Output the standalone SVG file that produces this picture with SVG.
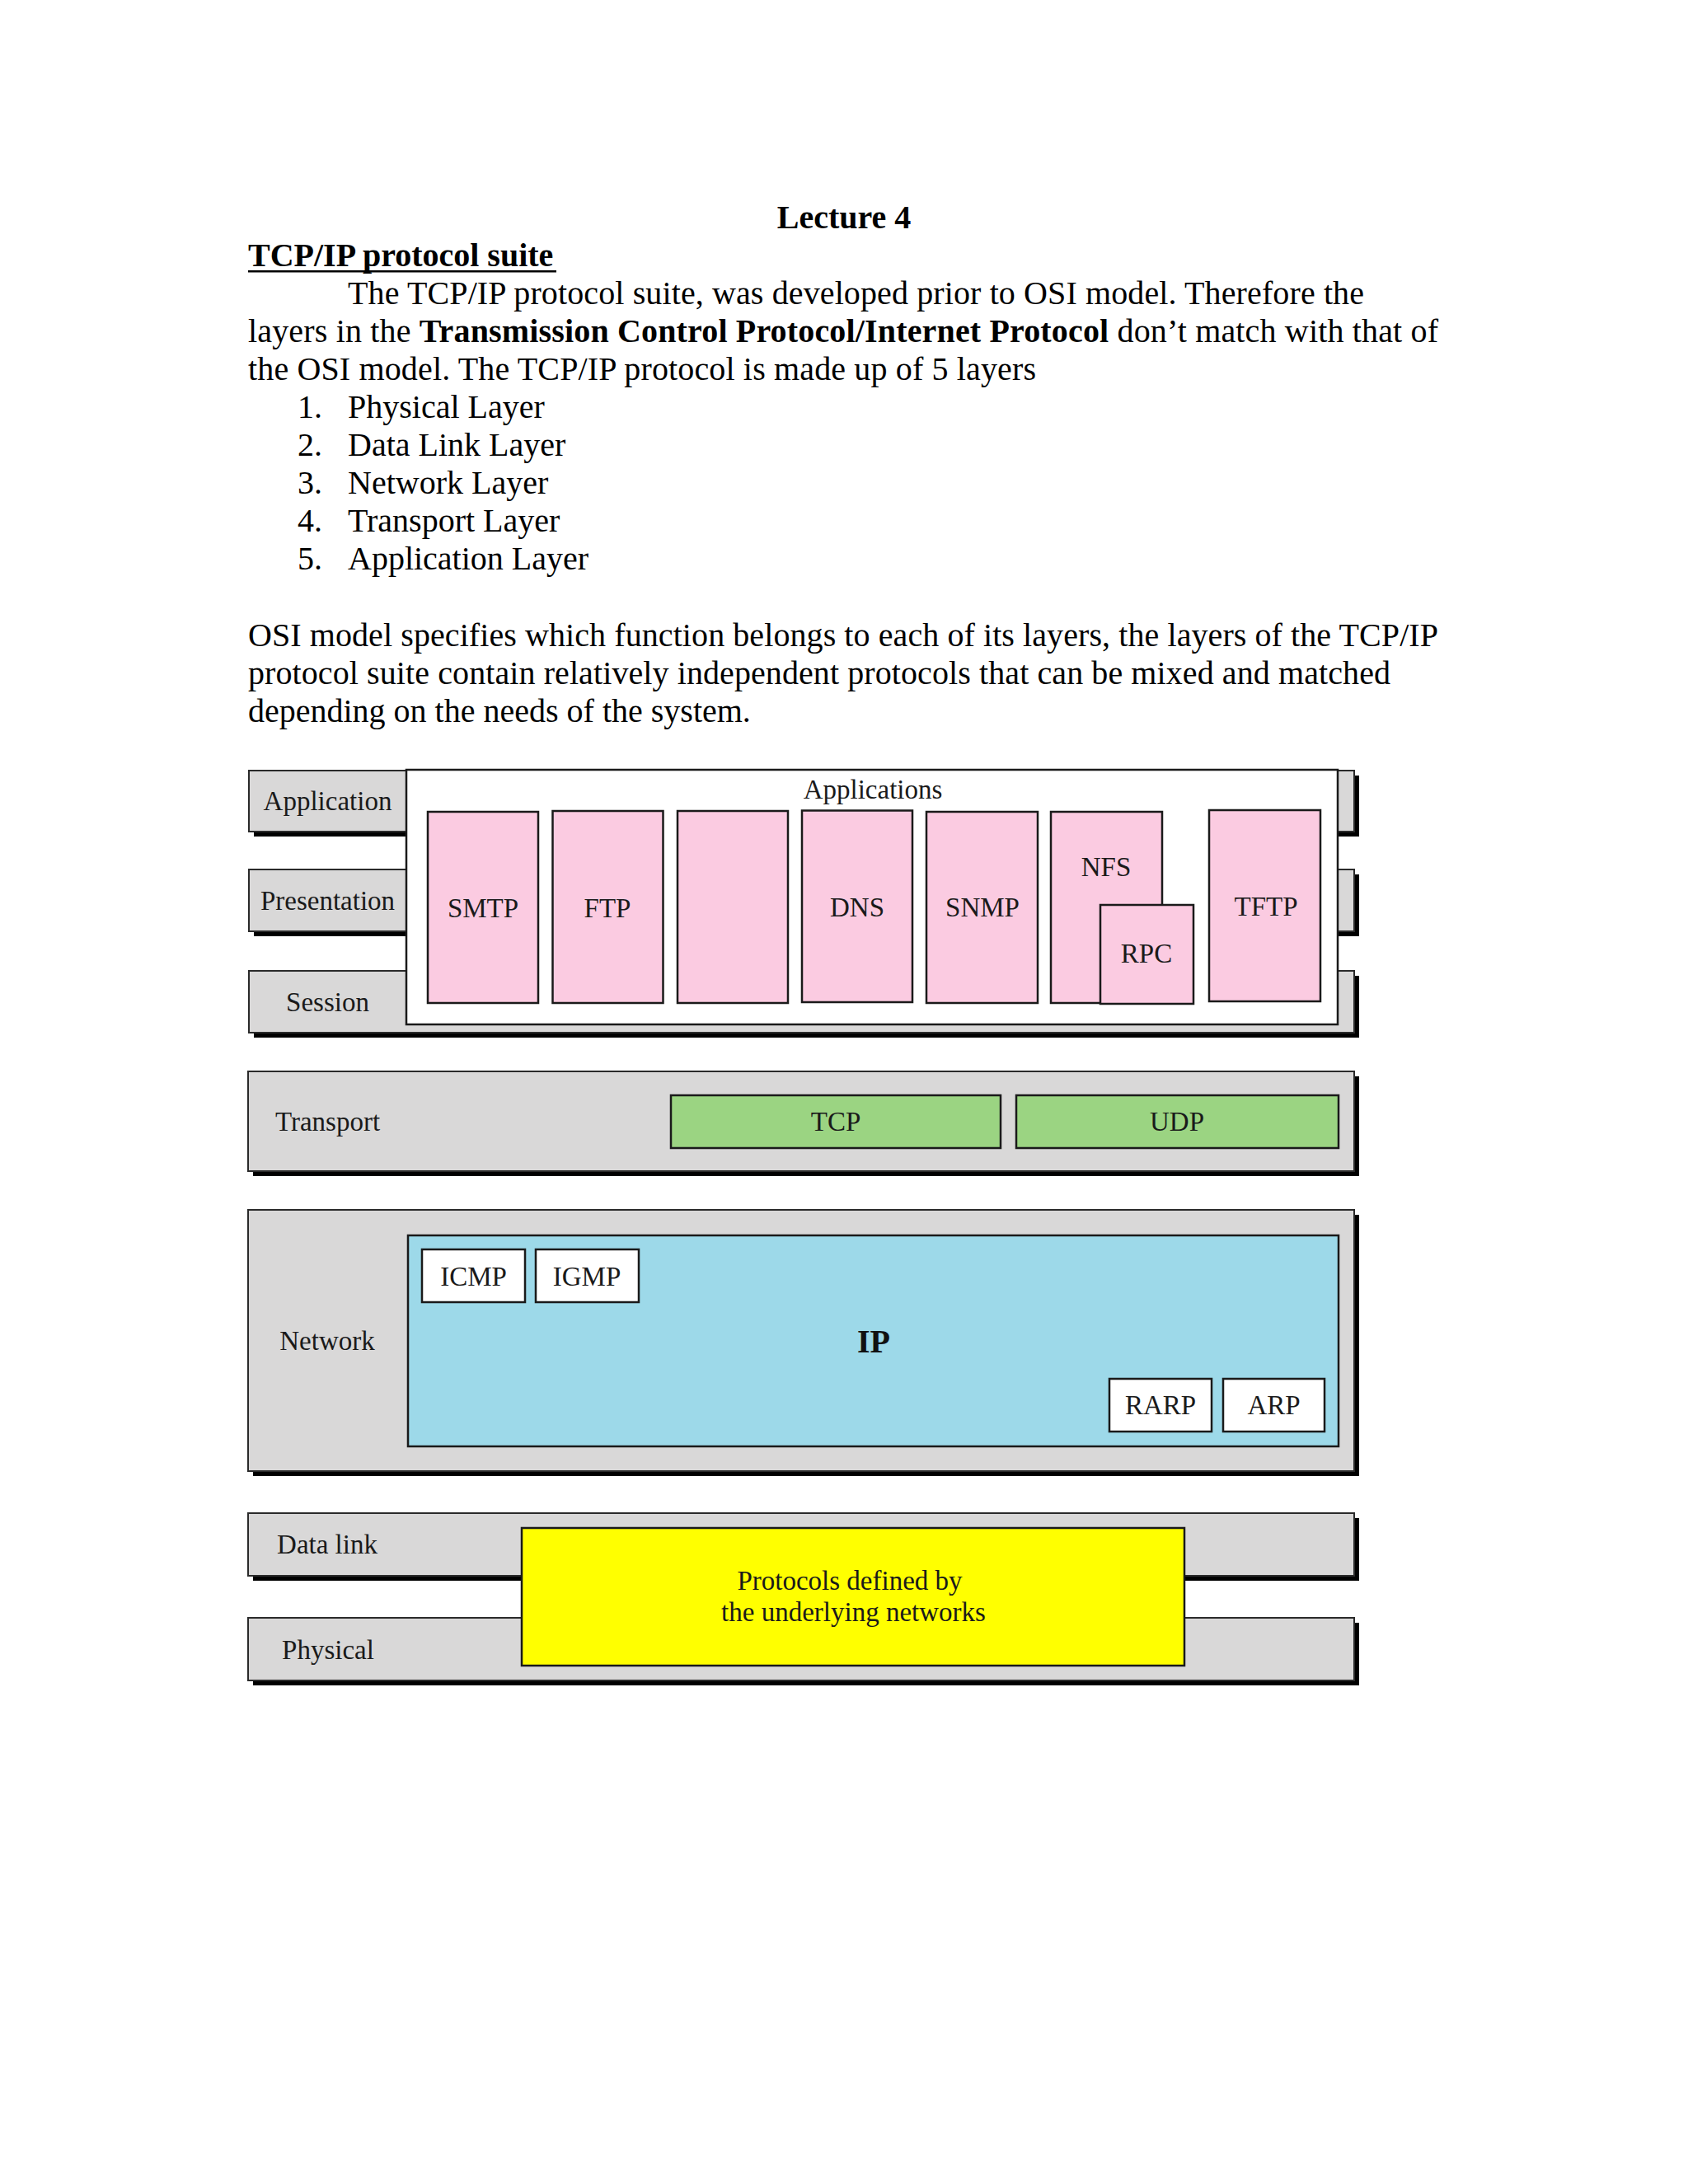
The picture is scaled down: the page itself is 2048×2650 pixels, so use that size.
<svg xmlns="http://www.w3.org/2000/svg" width="2048" height="2650" viewBox="0 0 2048 2650">
<style>
.body{font-family:"Liberation Serif","Times New Roman",serif;font-size:40px;fill:#000}
.b{font-weight:bold}
.lbl{font-family:"Liberation Serif","Times New Roman",serif;font-size:33px;fill:#1a1a1a;text-anchor:middle}
.ip{font-family:"Liberation Serif","Times New Roman",serif;font-size:40px;font-weight:bold;fill:#111;text-anchor:middle}
.layer{fill:#d9d8d8;stroke:#2a2a2a;stroke-width:2}
.shadow{fill:#000}
.box{stroke:#1a1a1a;stroke-width:2.5}
.pink{fill:#fbcbe1}
.green{fill:#9bd482}
.blue{fill:#9dd9e9}
.white{fill:#fff}
.yellow{fill:#ffff00}
</style>
<rect width="2048" height="2650" fill="#fff"/>
<g id="text">
<text class="body b" x="1024" y="277" text-anchor="middle">Lecture 4</text>
<text class="body b" x="301" y="323">TCP/IP protocol suite</text>
<rect x="301" y="328" width="374" height="2.5" fill="#000"/>
<text class="body" x="422" y="369" textLength="1233" lengthAdjust="spacing">The TCP/IP protocol suite, was developed prior to OSI model. Therefore the</text>
<text class="body" x="301" y="415" textLength="1444" lengthAdjust="spacing">layers in the <tspan class="b">Transmission Control Protocol/Internet Protocol</tspan> don’t match with that of</text>
<text class="body" x="301" y="461" textLength="956" lengthAdjust="spacing">the OSI model. The TCP/IP protocol is made up of 5 layers</text>
<text class="body" x="361" y="507">1.</text><text class="body" x="422" y="507">Physical Layer</text>
<text class="body" x="361" y="553">2.</text><text class="body" x="422" y="553">Data Link Layer</text>
<text class="body" x="361" y="599">3.</text><text class="body" x="422" y="599">Network Layer</text>
<text class="body" x="361" y="645">4.</text><text class="body" x="422" y="645">Transport Layer</text>
<text class="body" x="361" y="691">5.</text><text class="body" x="422" y="691">Application Layer</text>
<text class="body" x="301" y="784" textLength="1444" lengthAdjust="spacing">OSI model specifies which function belongs to each of its layers, the layers of the TCP/IP</text>
<text class="body" x="301" y="830" textLength="1386" lengthAdjust="spacing">protocol suite contain relatively independent protocols that can be mixed and matched</text>
<text class="body" x="301" y="876">depending on the needs of the system.</text>
</g>
<g id="layer-application">
<rect class="shadow" x="308" y="941" width="1341" height="74"/>
<rect class="layer" x="302" y="935" width="1341" height="74"/>
<text class="lbl" x="397.5" y="983">Application</text>
</g>
<g id="layer-presentation">
<rect class="shadow" x="308" y="1061" width="1341" height="75"/>
<rect class="layer" x="302" y="1055" width="1341" height="75"/>
<text class="lbl" x="397.5" y="1104">Presentation</text>
</g>
<g id="layer-session">
<rect class="shadow" x="308" y="1184" width="1341" height="75"/>
<rect class="layer" x="302" y="1178" width="1341" height="75"/>
<text class="lbl" x="397.5" y="1227">Session</text>
</g>
<g id="applications">
<rect class="box white" x="493" y="934" width="1130" height="309"/>
<text class="lbl" x="1059" y="969">Applications</text>
</g>
<g id="smtp"><rect class="box pink" x="519" y="985" width="134" height="232"/><text class="lbl" x="586" y="1113">SMTP</text></g>
<g id="ftp"><rect class="box pink" x="670.5" y="984" width="134" height="233"/><text class="lbl" x="737" y="1113">FTP</text></g>
<g id="blank"><rect class="box pink" x="822" y="984" width="134" height="233"/></g>
<g id="dns"><rect class="box pink" x="973" y="983.5" width="134" height="232.5"/><text class="lbl" x="1040" y="1112">DNS</text></g>
<g id="snmp"><rect class="box pink" x="1124" y="985" width="135" height="232"/><text class="lbl" x="1192" y="1112">SNMP</text></g>
<g id="nfs"><rect class="box pink" x="1275" y="985" width="135" height="232"/><text class="lbl" x="1342" y="1063">NFS</text></g>
<g id="rpc"><rect class="box pink" x="1335" y="1098" width="113" height="120"/><text class="lbl" x="1391" y="1168">RPC</text></g>
<g id="tftp"><rect class="box pink" x="1467" y="983" width="135" height="232"/><text class="lbl" x="1536" y="1111">TFTP</text></g>
<g id="layer-transport">
<rect class="shadow" x="307" y="1306" width="1342" height="121"/>
<rect class="layer" x="301" y="1300" width="1342" height="121"/>
<text class="lbl" x="397.5" y="1372">Transport</text>
</g>
<g id="tcp"><rect class="box green" x="814" y="1329" width="400" height="64"/><text class="lbl" x="1014" y="1372">TCP</text></g>
<g id="udp"><rect class="box green" x="1233" y="1329" width="391" height="64"/><text class="lbl" x="1428" y="1372">UDP</text></g>
<g id="layer-network">
<rect class="shadow" x="307" y="1474" width="1342" height="317"/>
<rect class="layer" x="301" y="1468" width="1342" height="317"/>
<text class="lbl" x="397" y="1638">Network</text>
</g>
<g id="ip"><rect class="box blue" x="495" y="1499" width="1129" height="256"/><text class="ip" x="1060" y="1641">IP</text></g>
<g id="icmp"><rect class="box white" x="512" y="1516" width="125" height="64"/><text class="lbl" x="574.5" y="1560">ICMP</text></g>
<g id="igmp"><rect class="box white" x="650" y="1516" width="125" height="64"/><text class="lbl" x="712" y="1560">IGMP</text></g>
<g id="rarp"><rect class="box white" x="1346" y="1673" width="124" height="64"/><text class="lbl" x="1408" y="1716">RARP</text></g>
<g id="arp"><rect class="box white" x="1484" y="1673" width="123" height="64"/><text class="lbl" x="1545.5" y="1716">ARP</text></g>
<g id="layer-datalink">
<rect class="shadow" x="307" y="1842" width="1342" height="76"/>
<rect class="layer" x="301" y="1836" width="1342" height="76"/>
<text class="lbl" x="397" y="1885">Data link</text>
</g>
<g id="layer-physical">
<rect class="shadow" x="307" y="1969" width="1342" height="76"/>
<rect class="layer" x="301" y="1963" width="1342" height="76"/>
<text class="lbl" x="398" y="2013">Physical</text>
</g>
<g id="underlying">
<rect class="box yellow" x="633" y="1854" width="804" height="167"/>
<text class="lbl" x="1031" y="1929">Protocols defined by</text>
<text class="lbl" x="1035.5" y="1967">the underlying networks</text>
</g>
<g id="connectors"></g>
</svg>
